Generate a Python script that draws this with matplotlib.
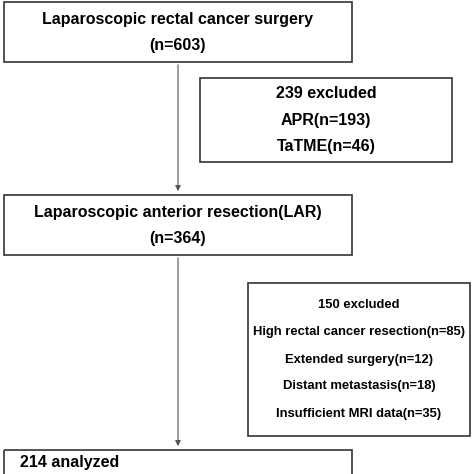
import matplotlib
matplotlib.use("Agg")
import matplotlib.pyplot as plt
from matplotlib.patches import Rectangle

main_steps = [
    ["Laparoscopic rectal cancer surgery", "(n=603)"],
    ["Laparoscopic anterior resection(LAR)", "(n=364)"],
]
exclusions = [
    ["239 excluded", "APR(n=193)", "TaTME(n=46)"],
    ["150 excluded", "High rectal cancer resection(n=85)", "Extended surgery(n=12)",
     "Distant metastasis(n=18)", "Insufficient MRI data(n=35)"],
]
final_label = "214 analyzed"

# layout in pixel coordinates (x0, y0, x1, y1)
main_boxes = [(4, 2, 352, 62), (4, 195, 352, 255)]
excl_boxes = [(200, 78, 452, 162), (248, 283, 470, 436)]
excl_sizes = [11.5, 9.4]
final_box = (4, 450, 352, 490)
arrow_x = 178

fig = plt.figure(figsize=(4.74, 4.74), dpi=100)
ax = fig.add_axes([0, 0, 1, 1])
ax.set_xlim(0, 474)
ax.set_ylim(474, 0)
ax.axis("off")

font = dict(family="Liberation Sans", fontweight="bold", color="black")


def draw_box(box, lines, line_gap, size):
    x0, y0, x1, y1 = box
    ax.add_patch(Rectangle((x0, y0), x1 - x0, y1 - y0, fill=False, edgecolor="#333333", linewidth=1.2))
    cy = (y0 + y1) / 2
    start = cy - line_gap * (len(lines) - 1) / 2
    for i, text in enumerate(lines):
        ax.text((x0 + x1) / 2, start + i * line_gap, text, ha="center", va="center", fontsize=size, **font)


for box, lines in zip(main_boxes, main_steps):
    draw_box(box, lines, 26, 11.5)
for box, lines, size in zip(excl_boxes, exclusions, excl_sizes):
    draw_box(box, lines, 27, size)

x0, y0, x1, y1 = final_box
ax.add_patch(Rectangle((x0, y0), x1 - x0, y1 - y0, fill=False, edgecolor="#333333", linewidth=1.2))
ax.text(20, 463, final_label, ha="left", va="center", fontsize=11.5, **font)

# arrows between main boxes
for top, bottom in [(main_boxes[0][3], main_boxes[1][1]), (main_boxes[1][3], final_box[1])]:
    ax.annotate("", xy=(arrow_x, bottom - 1), xytext=(arrow_x, top),
                arrowprops=dict(arrowstyle="-|>", color="#555555", lw=0.8, mutation_scale=8))

fig.savefig("out.png", dpi=100)
